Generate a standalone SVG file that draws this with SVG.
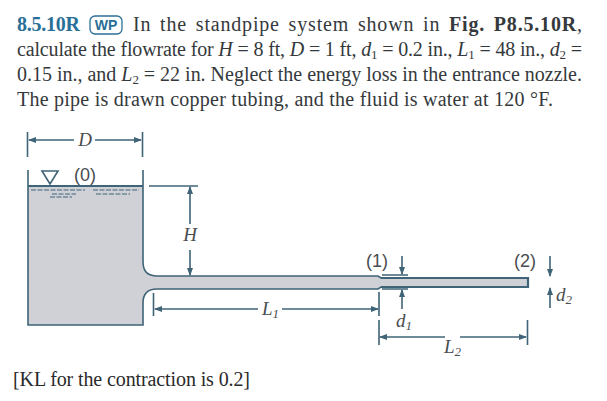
<svg xmlns="http://www.w3.org/2000/svg" width="607" height="401" viewBox="0 0 607 401">
<style>
text{font-family:"Liberation Serif","Times New Roman",serif;fill:#35393c}
.p{font-size:20px}
.b{font-weight:bold}
.i{font-style:italic}
.s{font-size:13px}
.l{font-size:18px;font-family:"Liberation Sans",Arial,sans-serif;fill:#4a4d50}
.v{font-size:19px;font-style:italic;fill:#4a4d50}
.d{stroke:#3f6377;stroke-width:1.6;fill:none}
.t{stroke:#3f6377;stroke-width:1;fill:none;stroke-dasharray:5 1.500}
</style>
<defs>
<marker id="a" markerWidth="8" markerHeight="6" refX="7" refY="3" orient="auto" markerUnits="userSpaceOnUse"><path d="M0 0L8 3L0 6z" fill="#3f6377"/></marker>
</defs>
<rect width="607" height="401" fill="#fff"/>
<g id="problem-text">
<text class="p" y="31" x="17" textLength="63" style="fill:#2a6f97;font-weight:bold">8.5.10R</text>
<rect x="90" y="16" width="32" height="18" rx="5" fill="none" stroke="#2a6f97" stroke-width="1.3"/>
<text x="106" y="30" text-anchor="middle" style="font:bold 14px 'Liberation Sans',Arial,sans-serif;fill:#2a6f97">WP</text>
<text class="p" y="31" x="133" textLength="449" word-spacing="3">In the standpipe system shown in <tspan class="b">Fig. P8.5.10R</tspan>,</text>
<text class="p" y="56" x="17" textLength="565">calculate the flowrate for <tspan class="i">H</tspan> = 8 ft, <tspan class="i">D</tspan> = 1 ft, <tspan class="i">d</tspan><tspan class="s" dy="3">1</tspan><tspan dy="-3"> = 0.2 in., </tspan><tspan class="i">L</tspan><tspan class="s" dy="3">1</tspan><tspan dy="-3"> = 48 in., </tspan><tspan class="i">d</tspan><tspan class="s" dy="3">2</tspan><tspan dy="-3"> =</tspan></text>
<text class="p" y="81" x="17" textLength="565">0.15 in., and <tspan class="i">L</tspan><tspan class="s" dy="3">2</tspan><tspan dy="-3"> = 22 in. Neglect the energy loss in the entrance nozzle.</tspan></text>
<text class="p" y="106" x="17" textLength="536">The pipe is drawn copper tubing, and the fluid is water at 120 °F.</text>
<text y="386" x="13" textLength="237" style="font-size:20px;fill:#2a2a2a">[KL for the contraction is 0.2]</text>
</g>
<g id="tank">
<path d="M28 186H143V262Q143 276 157 276H378L381 278H528V287H381L378 289H157Q143 289 143 303V325H28Z" fill="#cfd1d7"/>
<path class="d" d="M28 170V325H143V303Q143 289 157 289H378L381 287H528V278H381L378 276H157Q143 276 143 262V170"/>
<path d="M381 278H528V287H381" fill="none" stroke="#3f6377" stroke-width="2.200"/>
<path d="M28 186H143" stroke="#3f6377" stroke-width="2"/>
</g>
<g id="water-surface">
<path class="t" d="M31 190H85M93 190H139M52 194H76M96 194H130M50 197H72"/>
<path d="M42 171H58L50 184Z" fill="#fff" stroke="#3f6377" stroke-width="1.600"/>
<text class="l" x="85" y="181" text-anchor="middle">(0)</text>
</g>
<g id="connectors">
<path class="d" d="M27.500 132V157M142.500 132V157"/>
<path class="d" marker-end="url(#a)" d="M74 140H29"/>
<path class="d" marker-end="url(#a)" d="M95 140H141"/>
<path class="d" d="M149 186H198"/>
<path class="d" marker-end="url(#a)" d="M190 224V187"/>
<path class="d" marker-end="url(#a)" d="M190 250V275"/>
<path class="d" d="M153.500 293V316M379 292V316"/>
<path class="d" marker-end="url(#a)" d="M258 309H155"/>
<path class="d" marker-end="url(#a)" d="M282 309H378"/>
<path class="d" d="M382 275H408M382 289H408"/>
<path class="d" marker-end="url(#a)" d="M402 256V274"/>
<path class="d" marker-end="url(#a)" d="M402 309V290"/>
<path class="d" d="M379 320V345M527.500 320V345"/>
<path class="d" marker-end="url(#a)" d="M445 337H380"/>
<path class="d" marker-end="url(#a)" d="M460 337H526"/>
<path class="d" marker-end="url(#a)" d="M550 256V276"/>
<path class="d" marker-end="url(#a)" d="M550 308V288"/>
</g>
<g id="labels">
<text class="v" x="85" y="146" text-anchor="middle">D</text>
<text class="v" x="190" y="241" text-anchor="middle">H</text>
<text class="v" x="262" y="315">L<tspan class="s" dy="3">1</tspan></text>
<text class="v" x="396" y="327">d<tspan class="s" dy="3">1</tspan></text>
<text class="v" x="444" y="353">L<tspan class="s" dy="3">2</tspan></text>
<text class="v" x="556" y="301">d<tspan class="s" dy="3">2</tspan></text>
<text class="l" x="377" y="267" text-anchor="middle">(1)</text>
<text class="l" x="525" y="267" text-anchor="middle">(2)</text>
</g>
</svg>
